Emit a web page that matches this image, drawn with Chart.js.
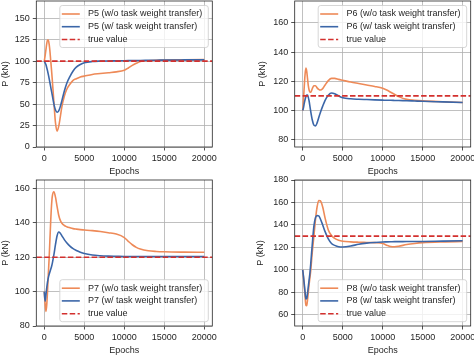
<!DOCTYPE html>
<html><head><meta charset="utf-8">
<script src="https://cdn.jsdelivr.net/npm/chart.js@4/dist/chart.umd.min.js"></script>
<style>
html,body{margin:0;padding:0;background:#fff;overflow:hidden;width:474px;height:355px;position:relative;}
canvas{position:absolute;}
</style></head><body>
<canvas id="c0"></canvas><canvas id="c1"></canvas><canvas id="c2"></canvas><canvas id="c3"></canvas>
<script>
// ---------------- data ----------------
const EPOCHS = [0,100,200,300,400,500,600,700,800,900,1000,1200,1400,1600,1800,2000,2200,2500,2800,3200,3600,4000,4500,5000,6000,7000,8000,9000,10000,10500,11000,11500,12000,13000,14000,15000,17500,20000];

const P5_WO = [100,106,113,120,124.5,124.5,120,112,101,90,78,52,28,18.5,24,35,47,59,67,73,77.5,79.5,81.5,82.5,84.5,85.5,86.5,87.5,89.5,92,95,97.5,99.5,100.5,101,101.2,101.5,101.8];
const P5_W  = [100,98,96,92.5,89,84.5,80,75,70,65,60,50,43,40.5,42,47,54,65,74,82,88.5,93,96,98,99.5,100,100.2,100.3,100.5,100.6,100.7,100.7,100.8,100.9,101,101.2,101.4,101.5];

const P6_WO = [100,108,117,125,129,127,122,117,114,112.5,112.5,115,117,117,115.5,114.5,114,115,117.5,120.5,122,122,121.3,120.7,119.5,118.5,117.5,116.5,115.2,114,112.5,111,109.5,107.6,107,106.6,106,105.5];
const P6_W  = [100,102,105,107.5,109.5,110.5,110.5,109,106.5,103,99.5,93.5,90,89.5,91.5,95,98.5,103,107,110.5,112,111.5,110,108.8,108,107.7,107.5,107.3,107.1,107,107,106.9,106.8,106.7,106.5,106.3,105.9,105.5];

const P7_WO = [100,93,88.5,92,100,110,119,130,141,150,155.5,158.2,155,149.5,144.5,141.5,139.8,138.5,137.8,137.2,136.7,136.4,136.1,135.9,135.5,135,134.3,133.5,131.5,129.3,127.3,125.8,124.8,123.8,123.4,123.2,123,122.9];
const P7_W  = [100,94.5,98,102,105.5,108,110,111.5,113,114.5,116.5,121.5,127.5,132.5,134.7,134,132.5,130.3,128.5,126.5,125,124,123,122.2,121.3,120.9,120.7,120.6,120.5,120.5,120.5,120.5,120.5,120.5,120.5,120.5,120.5,120.5];

const P8_WO = [100,93,85,76,68.5,68,73,80,87,93,99,116,130,145,156,161.8,161.5,156,146,135.5,130.5,128,126.3,125.5,124.9,124.6,124.4,124.2,123.5,122,120.8,120.6,121,122.5,123.5,124.2,124.9,125.2];
const P8_W  = [100,94,87,80,74,74.5,79,85,91,97,105,123,139,146.5,148.3,148,145.5,140,134,127.5,123.5,121.8,120.6,120.4,121.2,122.8,123.8,124.4,124.8,124.9,125,125.1,125.1,125.2,125.2,125.3,125.6,125.9];

const TRUE_VALUES = [100, 110, 120, 130];
const NAMES = ['P5', 'P6', 'P7', 'P8'];
const X_TICKS = [0, 5000, 10000, 15000, 20000];
const X_LIMITS = [-1000, 21000];
const Y_TICKS = [[0,25,50,75,100,125,150],[80,100,120,140,160],[80,100,120,140,160],[60,80,100,120,140,160,180]];
const Y_LIMITS = [[0,170],[75,175],[80,165],[50,180]];
const SERIES_WO = [P5_WO, P6_WO, P7_WO, P8_WO];
const SERIES_W  = [P5_W, P6_W, P7_W, P8_W];

// ---------------- layout (page pixels) ----------------
const PANELS = [
  {cl:0,   ct:0,   cw:237, ch:180, L:36.3,  T:1,   R:212.3, B:147, ytx:5.5,   xty:172,   loc:'upper'},
  {cl:237, ct:0,   cw:237, ch:180, L:294.7, T:1,   R:470.7, B:147, ytx:262.3, xty:172,   loc:'upper'},
  {cl:0,   ct:168, cw:237, ch:192, L:36.3,  T:180, R:212.3, B:326, ytx:5.5,   xty:350.7, loc:'lower'},
  {cl:237, ct:168, cw:237, ch:192, L:294.7, T:180, R:470.7, B:326, ytx:260.7, xty:350.7, loc:'lower'}
];

const FS = 9, HALF_LH = FS * 1.2 / 2;
const ORANGE = '#ee8a58', BLUE = '#3b66a8', RED = '#d3302e';
const TXT = '#262626';
Chart.defaults.font.family = "'Liberation Sans', Arial, Helvetica, sans-serif";
Chart.defaults.font.size = FS;
Chart.defaults.color = TXT;

const frameLegend = {
  id: 'frameLegend',
  afterDatasetsDraw(chart, args, opts) {
    const {ctx, chartArea: a} = chart;
    ctx.save();
    ctx.setLineDash([]);
    ctx.strokeStyle = TXT; ctx.lineWidth = 0.8;
    ctx.strokeRect(a.left, a.top, a.right - a.left, a.bottom - a.top);
    const w = 148.5, h = 42;
    const x = a.right - 4 - w;
    const y = opts.loc === 'upper' ? a.top + 4.5 : a.bottom - 4.3 - h;
    ctx.beginPath();
    ctx.roundRect(x, y, w, h, 2.5);
    ctx.fillStyle = 'rgba(255,255,255,0.8)';
    ctx.fill();
    ctx.strokeStyle = '#cccccc'; ctx.lineWidth = 0.8;
    ctx.stroke();
    const rows = [8.5, 21.2, 34];
    const ds = chart.data.datasets;
    ds.forEach((d, i) => {
      const yy = y + rows[i];
      ctx.beginPath();
      ctx.strokeStyle = d.borderColor; ctx.lineWidth = d.borderWidth;
      ctx.setLineDash(d.borderDash || []);
      ctx.moveTo(x + 2, yy); ctx.lineTo(x + 20, yy);
      ctx.stroke();
      ctx.setLineDash([]);
      ctx.fillStyle = TXT;
      ctx.font = FS + "px 'Liberation Sans', Arial, sans-serif";
      ctx.textBaseline = 'middle'; ctx.textAlign = 'left';
      ctx.fillText(d.label, x + 28.3, yy);
    });
    ctx.restore();
  }
};

PANELS.forEach((p, k) => {
  const cv = document.getElementById('c' + k);
  cv.width = p.cw; cv.height = p.ch;
  cv.style.left = p.cl + 'px'; cv.style.top = p.ct + 'px';
  cv.style.width = p.cw + 'px'; cv.style.height = p.ch + 'px';
  const tv = TRUE_VALUES[k];
  new Chart(cv, {
    type: 'line',
    data: {
      datasets: [
        {label: NAMES[k] + ' (w/o task weight transfer)', data: EPOCHS.map((e, i) => ({x: e, y: SERIES_WO[k][i]})),
         borderColor: ORANGE, borderWidth: 1.6, cubicInterpolationMode: 'monotone', order: 3},
        {label: NAMES[k] + ' (w/ task weight transfer)', data: EPOCHS.map((e, i) => ({x: e, y: SERIES_W[k][i]})),
         borderColor: BLUE, borderWidth: 1.6, cubicInterpolationMode: 'monotone', order: 2},
        {label: 'true value', data: X_LIMITS.map(e => ({x: e, y: tv})),
         borderColor: RED, borderWidth: 1.6, borderDash: [5.5, 2.4], order: 1}
      ]
    },
    options: {
      responsive: false, animation: false, devicePixelRatio: 1,
      layout: {autoPadding: false, padding: {left: 0, top: p.T - p.ct, right: p.cl + p.cw - p.R, bottom: 0}},
      plugins: {legend: {display: false}, tooltip: {enabled: false}, frameLegend: {loc: p.loc}},
      elements: {point: {radius: 0}},
      scales: {
        x: {
          type: 'linear', min: X_LIMITS[0], max: X_LIMITS[1],
          afterBuildTicks: s => { s.ticks = X_TICKS.map(v => ({value: v})); },
          afterFit: s => { s.height = p.ct + p.ch - p.B; s.paddingLeft = 0; s.paddingRight = 0; },
          ticks: {callback: v => String(v), padding: 3, maxRotation: 0, autoSkip: false, color: TXT},
          grid: {color: '#b0b0b0', lineWidth: 0.8, tickColor: TXT, tickLength: 3.5},
          border: {display: false},
          title: {display: true, text: 'Epochs', color: TXT, padding: {top: 0, bottom: Math.max(0, p.ct + p.ch - HALF_LH - p.xty)}}
        },
        y: {
          type: 'linear', min: Y_LIMITS[k][0], max: Y_LIMITS[k][1],
          afterBuildTicks: s => { s.ticks = Y_TICKS[k].map(v => ({value: v})); },
          afterFit: s => { s.width = p.L - p.cl; s.paddingTop = 0; s.paddingBottom = 0; },
          ticks: {callback: v => String(v), padding: 3, autoSkip: false, color: TXT},
          grid: {color: '#b0b0b0', lineWidth: 0.8, tickColor: TXT, tickLength: 3.5},
          border: {display: false},
          title: {display: true, text: 'P (kN)', color: TXT, padding: {top: Math.max(0, p.ytx - p.cl - HALF_LH), bottom: 0}}
        }
      }
    },
    plugins: [frameLegend]
  });
});
</script>
</body></html>
